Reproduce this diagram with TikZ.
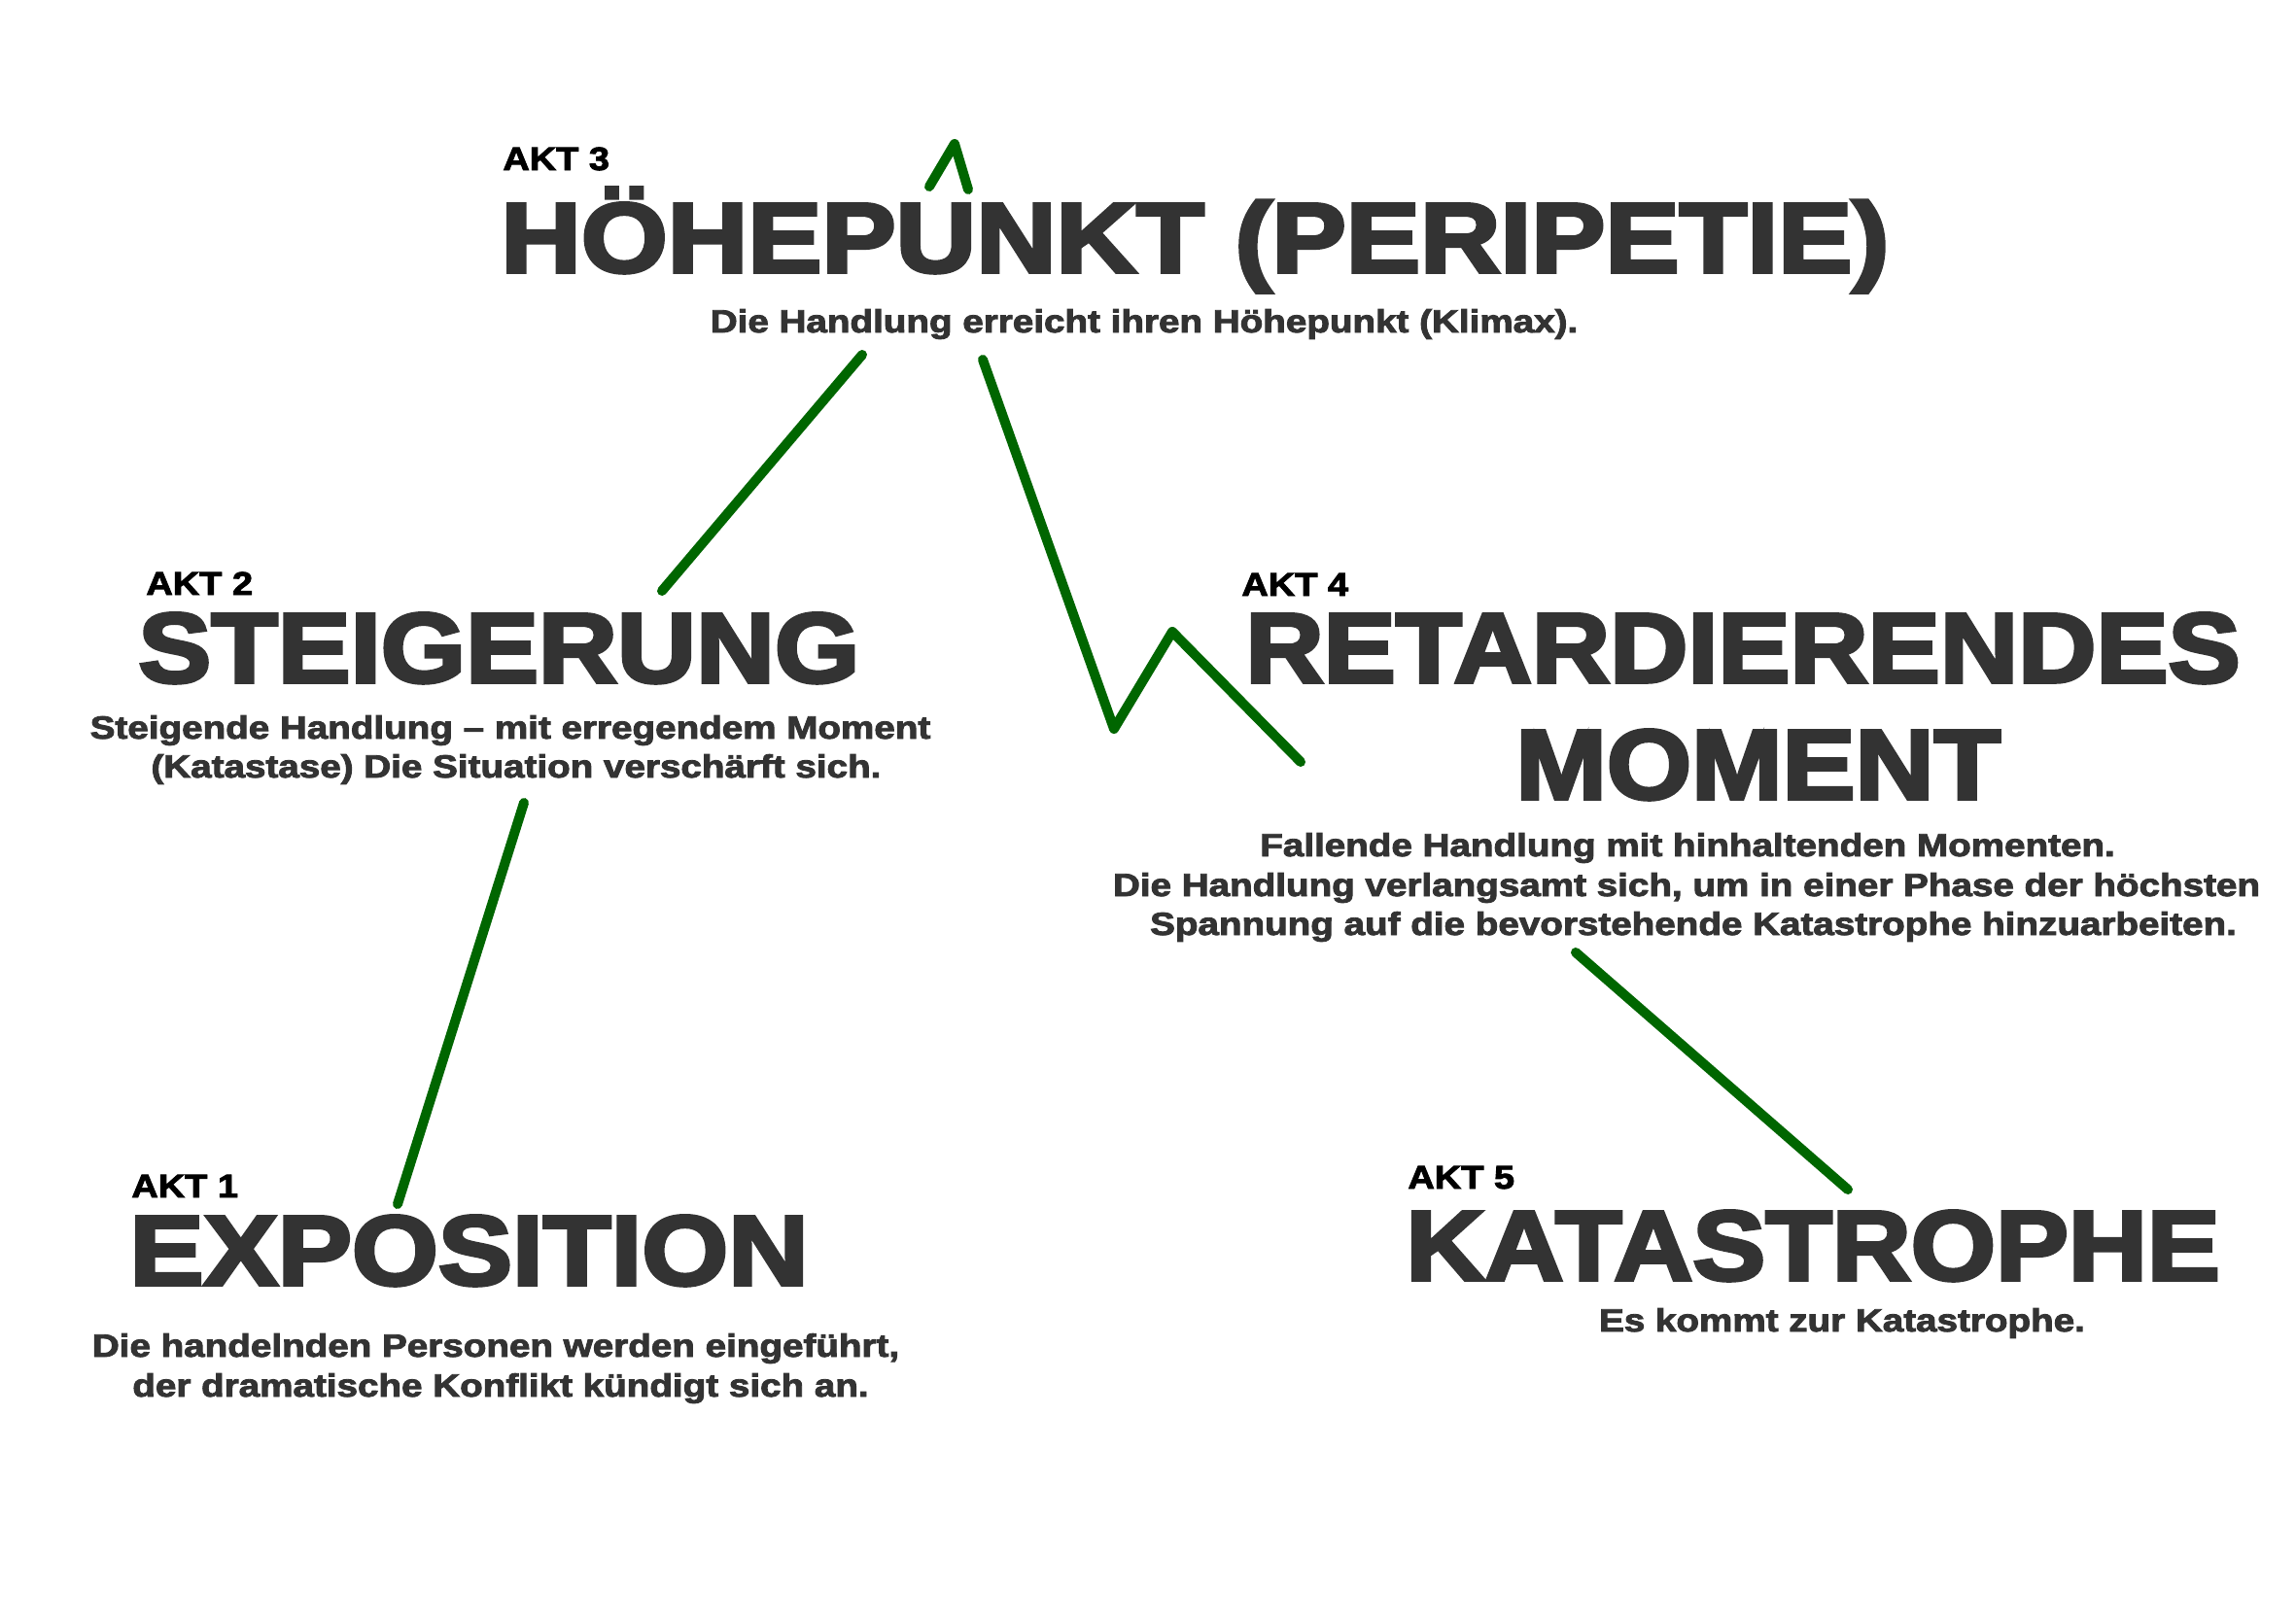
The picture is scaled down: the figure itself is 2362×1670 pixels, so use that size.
\documentclass[tikz,border=0pt]{standalone}
\usepackage{fontspec}
\newfontfamily\hvh{Liberation Sans}[BoldFeatures={FakeBold=3.5}]
\newfontfamily\hvs{Liberation Sans}[BoldFeatures={FakeBold=2.5}]
\definecolor{txt}{RGB}{51,51,51}
\definecolor{grn}{RGB}{0,102,0}
\newcommand{\hx}[2]{\scalebox{#1}[1]{#2}}
\tikzset{
  head/.style={inner sep=0pt, text=txt, font=\hvh\bfseries\fontsize{51}{51}\selectfont},
  akt/.style={inner sep=0pt, text=black, font=\hvs\bfseries\fontsize{16.8}{16.8}\selectfont},
  desc/.style={inner sep=0pt, text=txt, font=\hvs\bfseries\fontsize{16.5}{16.5}\selectfont},
  curve/.style={draw=grn, line width=5pt, line cap=round, line join=round}
}
\begin{document}
\begin{tikzpicture}[x=0.5pt,y=-0.5pt]
\useasboundingbox[fill=white] (0,0) rectangle (2362,1670);
% Akt 3
\node[akt, anchor=base west] (a3) at (517,175) {\hx{1.13}{AKT 3}};
\node[head, anchor=base west] (h3) at (515,280) {\hx{1.12}{HÖHEPUNKT (PERIPETIE)}};
\node[desc, anchor=base] (d3) at (1177,342) {\hx{1.17}{Die Handlung erreicht ihren Höhepunkt (Klimax).}};
% Akt 2
\node[akt, anchor=base west] (a2) at (150,612) {\hx{1.13}{AKT 2}};
\node[head, anchor=base west] (h2) at (142,702) {\hx{1.1}{STEIGERUNG}};
\node[desc, anchor=base] (d2a) at (525,760) {\hx{1.17}{Steigende Handlung – mit erregendem Moment}};
\node[desc, anchor=base] (d2b) at (531,800) {\hx{1.17}{(Katastase) Die Situation verschärft sich.}};
% Akt 4
\node[akt, anchor=base west] (a4) at (1277,613) {\hx{1.13}{AKT 4}};
\node[head, anchor=base west] (h4a) at (1281,702) {\hx{1.09}{RETARDIERENDES}};
\node[head, anchor=base west] (h4b) at (1559,822) {\hx{1.1}{MOMENT}};
\node[desc, anchor=base] (d4a) at (1736,881) {\hx{1.17}{Fallende Handlung mit hinhaltenden Momenten.}};
\node[desc, anchor=base] (d4b) at (1735,922) {\hx{1.17}{Die Handlung verlangsamt sich, um in einer Phase der höchsten}};
\node[desc, anchor=base] (d4c) at (1742,962) {\hx{1.17}{Spannung auf die bevorstehende Katastrophe hinzuarbeiten.}};
% Akt 1
\node[akt, anchor=base west] (a1) at (135,1232) {\hx{1.13}{AKT 1}};
\node[head, anchor=base west] (h1) at (133,1322) {\hx{1.12}{EXPOSITION}};
\node[desc, anchor=base] (d1a) at (510,1396) {\hx{1.17}{Die handelnden Personen werden eingeführt,}};
\node[desc, anchor=base] (d1b) at (515,1437) {\hx{1.17}{der dramatische Konflikt kündigt sich an.}};
% Akt 5
\node[akt, anchor=base west] (a5) at (1448,1223) {\hx{1.13}{AKT 5}};
\node[head, anchor=base west] (h5) at (1446,1317) {\hx{1.1}{KATASTROPHE}};
\node[desc, anchor=base] (d5) at (1895,1370) {\hx{1.17}{Es kommt zur Katastrophe.}};
% curve
\coordinate (p1) at (409,1239);
\coordinate (p2) at (539,826);
\coordinate (q1) at (681,608);
\coordinate (q2) at (887,365);
\coordinate (c1) at (956,192);
\coordinate (c2) at (982,148);
\coordinate (c3) at (996,195);
\coordinate (r1) at (1011,370);
\coordinate (r2) at (1146,750);
\coordinate (r3) at (1206,650);
\coordinate (r4) at (1338,784);
\coordinate (s1) at (1621,980);
\coordinate (s2) at (1901,1224);
\draw[curve] (p1) -- (p2);
\draw[curve] (q1) -- (q2);
\draw[curve] (c1) -- (c2) -- (c3);
\draw[curve] (r1) -- (r2) -- (r3) -- (r4);
\draw[curve] (s1) -- (s2);
\end{tikzpicture}
\end{document}
